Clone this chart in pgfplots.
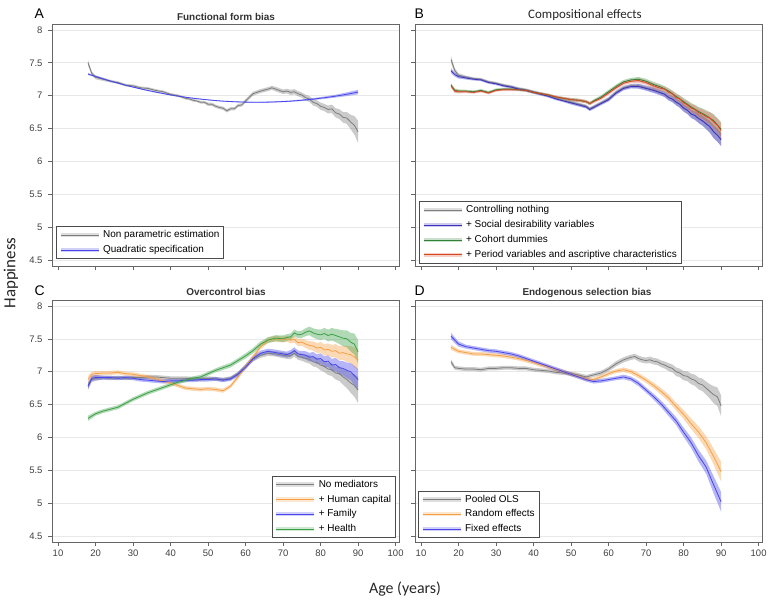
\documentclass[border=0pt]{standalone}
\usepackage{pgfplots}
\pgfplotsset{compat=1.18}
\usepgfplotslibrary{fillbetween}
\usepackage{pgfplotstable}
\usepackage{fontspec}
\setmainfont{Liberation Sans}
\newfontfamily\carlito{Carlito}

\definecolor{cgray}{RGB}{125,125,125}
\definecolor{cblue}{RGB}{70,70,235}
\definecolor{cnavy}{RGB}{60,50,190}
\definecolor{cgreen}{RGB}{60,160,70}
\definecolor{cred}{RGB}{215,70,30}
\definecolor{corange}{RGB}{245,160,70}

% age, estimate, half width of the confidence band
\pgfplotstableread{
x y e
18 7.50 0.04
19 7.34 0.03
20 7.28 0.03
22 7.25 0.025
24 7.22 0.02
26 7.20 0.02
28 7.16 0.02
30 7.15 0.02
32 7.12 0.02
34 7.11 0.02
36 7.08 0.02
38 7.06 0.02
40 7.02 0.02
41 7.01 0.02
42 7.00 0.02
43 6.98 0.02
44 6.96 0.02
45 6.95 0.02
46 6.93 0.02
47 6.92 0.02
48 6.90 0.02
49 6.90 0.02
50 6.87 0.025
51 6.87 0.025
52 6.84 0.025
53 6.82 0.025
54 6.81 0.025
55 6.77 0.025
56 6.80 0.025
57 6.80 0.025
58 6.85 0.025
59 6.86 0.025
60 6.92 0.03
62 7.03 0.03
64 7.07 0.03
66 7.10 0.03
67 7.12 0.03
68 7.10 0.035
69 7.08 0.035
70 7.06 0.035
71 7.07 0.035
72 7.05 0.04
73 7.06 0.04
74 7.03 0.04
75 7.01 0.04
76 6.97 0.045
77 6.95 0.045
78 6.90 0.05
79 6.88 0.05
80 6.84 0.055
81 6.82 0.055
82 6.79 0.06
83 6.80 0.065
84 6.74 0.07
85 6.72 0.075
86 6.67 0.08
87 6.66 0.09
88 6.60 0.11
89 6.55 0.14
90 6.45 0.17
}\aGray
\pgfplotstableread{
x y e
18 7.329 0.015
21 7.274 0.012
24 7.222 0.01
27 7.175 0.009
30 7.131 0.008
33 7.091 0.008
36 7.055 0.007
39 7.022 0.007
42 6.993 0.006
45 6.969 0.006
48 6.948 0.006
51 6.931 0.006
54 6.917 0.006
57 6.908 0.007
60 6.902 0.007
63 6.900 0.007
66 6.902 0.008
69 6.908 0.009
72 6.917 0.01
75 6.931 0.012
78 6.948 0.015
81 6.969 0.018
84 6.993 0.022
87 7.022 0.028
90 7.055 0.035
}\aQuad

\pgfplotstableread{
x y e
18 7.55 0.05
19 7.38 0.04
20 7.31 0.03
22 7.28 0.025
24 7.26 0.02
26 7.25 0.02
28 7.21 0.02
30 7.19 0.02
32 7.16 0.02
34 7.14 0.02
36 7.11 0.02
38 7.09 0.02
40 7.06 0.02
42 7.03 0.02
44 7.00 0.02
46 6.96 0.02
48 6.93 0.02
50 6.90 0.025
52 6.87 0.025
54 6.84 0.025
55 6.80 0.025
56 6.83 0.025
58 6.89 0.025
60 6.95 0.03
62 7.05 0.03
64 7.12 0.03
66 7.15 0.03
68 7.15 0.035
70 7.12 0.035
72 7.09 0.04
74 7.05 0.04
76 6.98 0.045
78 6.91 0.05
80 6.82 0.055
82 6.73 0.06
84 6.66 0.07
86 6.58 0.08
88 6.46 0.1
90 6.34 0.1
}\bGray
\pgfplotstableread{
x y e
18 7.38 0.04
19 7.32 0.03
20 7.29 0.03
22 7.27 0.025
24 7.25 0.02
26 7.24 0.02
28 7.20 0.02
30 7.18 0.02
32 7.15 0.02
34 7.13 0.02
36 7.10 0.02
38 7.08 0.02
40 7.05 0.02
42 7.02 0.02
44 6.99 0.02
46 6.95 0.02
48 6.92 0.02
50 6.89 0.025
52 6.86 0.025
54 6.83 0.025
55 6.79 0.025
56 6.82 0.025
58 6.88 0.025
60 6.94 0.03
62 7.04 0.03
64 7.11 0.03
66 7.14 0.03
68 7.14 0.035
70 7.11 0.035
72 7.08 0.04
74 7.04 0.04
75 7.02 0.04
76 6.97 0.045
77 6.95 0.045
78 6.90 0.05
79 6.87 0.05
80 6.81 0.055
81 6.78 0.055
82 6.72 0.06
83 6.70 0.065
84 6.65 0.07
85 6.62 0.075
86 6.57 0.08
87 6.53 0.09
88 6.45 0.1
89 6.40 0.1
90 6.33 0.1
}\bBlue
\pgfplotstableread{
x y e
18 7.16 0.03
19 7.08 0.03
20 7.07 0.025
22 7.07 0.02
24 7.06 0.02
26 7.08 0.02
28 7.05 0.02
30 7.09 0.02
32 7.10 0.02
34 7.10 0.02
36 7.09 0.02
38 7.08 0.02
40 7.05 0.02
42 7.03 0.02
44 7.01 0.02
46 6.98 0.02
48 6.96 0.02
50 6.94 0.025
52 6.93 0.025
54 6.91 0.025
55 6.88 0.025
56 6.92 0.025
58 6.98 0.025
60 7.06 0.03
62 7.14 0.03
64 7.21 0.03
66 7.24 0.03
68 7.25 0.035
70 7.22 0.035
72 7.17 0.04
74 7.13 0.04
76 7.07 0.045
78 6.99 0.05
80 6.91 0.055
82 6.83 0.06
84 6.76 0.07
86 6.70 0.08
88 6.62 0.1
90 6.49 0.11
}\bGreen
\pgfplotstableread{
x y e
18 7.15 0.03
19 7.07 0.03
20 7.06 0.025
22 7.06 0.02
24 7.05 0.02
26 7.07 0.02
28 7.04 0.02
30 7.08 0.02
32 7.09 0.02
34 7.09 0.02
36 7.09 0.02
38 7.08 0.02
40 7.05 0.02
42 7.03 0.02
44 7.01 0.02
46 6.98 0.02
48 6.96 0.02
50 6.94 0.025
52 6.93 0.025
54 6.91 0.025
55 6.88 0.025
56 6.91 0.025
58 6.96 0.025
60 7.04 0.03
62 7.12 0.03
64 7.19 0.03
66 7.22 0.03
68 7.23 0.035
70 7.20 0.035
72 7.15 0.04
74 7.11 0.04
75 7.10 0.04
76 7.05 0.045
77 7.03 0.045
78 6.97 0.05
79 6.95 0.05
80 6.89 0.055
81 6.86 0.055
82 6.81 0.06
83 6.79 0.065
84 6.74 0.07
85 6.72 0.075
86 6.68 0.08
87 6.66 0.09
88 6.60 0.1
89 6.55 0.1
90 6.47 0.11
}\bRed

\pgfplotstableread{
x y e
18 6.78 0.05
19 6.88 0.04
20 6.90 0.04
22 6.91 0.03
24 6.90 0.03
26 6.91 0.03
28 6.90 0.03
30 6.91 0.03
32 6.91 0.03
34 6.92 0.03
36 6.92 0.03
38 6.91 0.03
40 6.90 0.03
42 6.90 0.03
44 6.90 0.03
46 6.89 0.03
48 6.89 0.03
50 6.90 0.03
52 6.89 0.03
54 6.88 0.03
56 6.90 0.03
58 6.97 0.03
60 7.08 0.035
62 7.19 0.035
64 7.25 0.04
66 7.28 0.04
68 7.27 0.04
70 7.25 0.045
71 7.24 0.045
72 7.24 0.05
73 7.28 0.05
74 7.23 0.05
75 7.22 0.055
76 7.20 0.06
77 7.19 0.065
78 7.15 0.07
79 7.14 0.075
80 7.10 0.08
81 7.08 0.085
82 7.04 0.09
83 7.03 0.095
84 6.98 0.1
85 6.97 0.11
86 6.92 0.12
87 6.88 0.13
88 6.83 0.15
89 6.79 0.17
90 6.72 0.2
}\cGray
\pgfplotstableread{
x y e
18 6.88 0.05
19 6.96 0.04
20 6.97 0.04
22 6.98 0.03
24 6.98 0.03
26 6.99 0.03
28 6.97 0.03
30 6.96 0.03
32 6.94 0.03
34 6.92 0.03
36 6.89 0.03
38 6.86 0.03
40 6.83 0.03
42 6.79 0.03
44 6.75 0.03
46 6.74 0.03
48 6.73 0.03
50 6.74 0.03
52 6.73 0.03
54 6.71 0.03
56 6.78 0.03
58 6.92 0.035
60 7.08 0.035
62 7.22 0.04
64 7.38 0.04
66 7.48 0.04
68 7.50 0.045
70 7.49 0.045
71 7.50 0.045
72 7.48 0.05
73 7.49 0.05
74 7.44 0.05
75 7.45 0.055
76 7.42 0.06
77 7.40 0.065
78 7.39 0.07
79 7.36 0.075
80 7.37 0.08
81 7.33 0.085
82 7.34 0.09
83 7.31 0.095
84 7.32 0.1
85 7.28 0.105
86 7.29 0.11
87 7.27 0.12
88 7.26 0.13
89 7.22 0.15
90 7.18 0.16
}\cOrange
\pgfplotstableread{
x y e
18 6.78 0.05
19 6.90 0.04
20 6.91 0.04
22 6.91 0.03
24 6.91 0.03
26 6.90 0.03
28 6.91 0.03
30 6.90 0.03
32 6.88 0.03
34 6.87 0.03
36 6.86 0.03
38 6.85 0.03
40 6.86 0.03
42 6.86 0.03
44 6.87 0.03
46 6.87 0.03
48 6.88 0.03
50 6.88 0.03
52 6.89 0.03
54 6.87 0.03
56 6.89 0.03
58 6.96 0.035
60 7.07 0.035
62 7.20 0.04
64 7.28 0.04
66 7.31 0.04
68 7.29 0.045
70 7.27 0.045
71 7.26 0.045
72 7.28 0.05
73 7.32 0.05
74 7.27 0.05
75 7.26 0.055
76 7.25 0.06
77 7.22 0.065
78 7.23 0.07
79 7.19 0.075
80 7.20 0.08
81 7.15 0.085
82 7.16 0.09
83 7.10 0.095
84 7.11 0.1
85 7.06 0.105
86 7.05 0.11
87 7.02 0.12
88 7.00 0.13
89 6.94 0.15
90 6.88 0.16
}\cBlue
\pgfplotstableread{
x y e
18 6.29 0.04
20 6.36 0.03
22 6.40 0.03
24 6.43 0.03
26 6.46 0.03
28 6.52 0.03
30 6.58 0.03
32 6.63 0.03
34 6.68 0.03
36 6.72 0.03
38 6.76 0.03
40 6.80 0.03
42 6.84 0.03
44 6.87 0.03
46 6.90 0.03
48 6.92 0.03
50 6.97 0.03
52 7.02 0.03
54 7.06 0.035
56 7.10 0.035
58 7.17 0.035
60 7.24 0.04
62 7.32 0.04
64 7.42 0.04
66 7.48 0.045
68 7.51 0.045
70 7.50 0.05
71 7.52 0.05
72 7.53 0.05
73 7.59 0.05
74 7.56 0.055
75 7.57 0.055
76 7.60 0.06
77 7.62 0.065
78 7.59 0.07
79 7.57 0.075
80 7.56 0.08
81 7.58 0.085
82 7.55 0.09
83 7.57 0.095
84 7.55 0.1
85 7.53 0.11
86 7.51 0.12
87 7.50 0.13
88 7.45 0.14
89 7.42 0.16
90 7.30 0.18
}\cGreen

\pgfplotstableread{
x y e
18 7.15 0.04
19 7.06 0.03
20 7.05 0.03
22 7.04 0.03
24 7.04 0.03
26 7.03 0.03
28 7.05 0.03
30 7.05 0.03
32 7.06 0.03
34 7.06 0.03
36 7.05 0.03
38 7.05 0.03
40 7.03 0.03
42 7.02 0.03
44 7.01 0.03
46 6.99 0.03
48 6.98 0.03
50 6.97 0.03
52 6.95 0.03
54 6.92 0.03
56 6.95 0.03
58 6.98 0.035
60 7.04 0.035
62 7.12 0.04
64 7.18 0.04
66 7.22 0.04
67 7.23 0.04
68 7.20 0.045
69 7.18 0.045
70 7.17 0.045
71 7.18 0.05
72 7.16 0.05
73 7.15 0.05
74 7.12 0.05
75 7.10 0.055
76 7.07 0.06
77 7.05 0.06
78 7.00 0.065
79 6.98 0.065
80 6.94 0.07
81 6.93 0.075
82 6.89 0.08
83 6.87 0.085
84 6.82 0.09
85 6.80 0.095
86 6.75 0.1
87 6.70 0.11
88 6.65 0.13
89 6.62 0.14
90 6.48 0.16
}\dGray
\pgfplotstableread{
x y e
18 7.37 0.04
20 7.31 0.03
22 7.29 0.03
24 7.27 0.03
26 7.27 0.03
28 7.26 0.03
30 7.25 0.03
32 7.24 0.03
34 7.22 0.03
36 7.20 0.03
38 7.17 0.03
40 7.14 0.03
42 7.10 0.03
44 7.07 0.03
46 7.03 0.03
48 7.00 0.03
50 6.96 0.03
52 6.93 0.03
54 6.89 0.03
56 6.88 0.03
58 6.92 0.03
60 6.97 0.03
62 7.01 0.03
64 7.03 0.035
66 7.00 0.035
68 6.94 0.04
70 6.87 0.04
72 6.79 0.045
74 6.70 0.05
76 6.60 0.055
78 6.47 0.06
80 6.35 0.07
82 6.21 0.08
84 6.08 0.09
86 5.92 0.1
88 5.71 0.12
90 5.48 0.15
}\dOrange
\pgfplotstableread{
x y e
18 7.54 0.05
20 7.42 0.04
22 7.38 0.03
24 7.36 0.03
26 7.34 0.03
28 7.32 0.03
30 7.31 0.03
32 7.29 0.03
34 7.27 0.03
36 7.24 0.03
38 7.20 0.03
40 7.16 0.03
42 7.12 0.03
44 7.08 0.03
46 7.04 0.03
48 7.00 0.03
50 6.96 0.03
52 6.92 0.03
54 6.88 0.03
56 6.85 0.03
58 6.86 0.03
60 6.88 0.03
62 6.90 0.03
64 6.92 0.035
66 6.89 0.035
68 6.82 0.04
70 6.72 0.04
72 6.62 0.045
74 6.51 0.05
76 6.38 0.055
78 6.25 0.06
80 6.08 0.07
82 5.92 0.08
84 5.72 0.09
86 5.55 0.1
88 5.28 0.13
90 5.02 0.15
}\dBlue

% confidence band: #1 table, #2 colour, #3 path id
\newcommand{\ciband}[3]{%
  \addplot[draw=none, forget plot, name path=#3u] table[x=x, y expr=\thisrow{y}+\thisrow{e}] {#1};
  \addplot[draw=none, forget plot, name path=#3l] table[x=x, y expr=\thisrow{y}-\thisrow{e}] {#1};
  \addplot[fill=#2, fill opacity=0.4, draw=none, forget plot] fill between[of=#3u and #3l];
}

\pgfplotsset{
  panel/.style={
    scale only axis, width=347bp, height=242bp,
    xmin=8.4, xmax=100.9, ymin=4.41, ymax=8.09,
    xtick={10,20,...,100}, ytick={4.5,5,...,8},
    tick align=outside, xtick pos=bottom, ytick pos=left,
    major tick length=4bp,
    axis line style={black!60, line width=0.7bp},
    tick style={black!60, line width=0.6bp},
    ymajorgrids, grid style={black!9, line width=0.6bp},
    ticklabel style={font=\fontsize{9.5}{11}\selectfont, text=black!75},
    yticklabel style={xshift=-2bp},
    /pgf/number format/assume math mode=true,
    legend cell align=left,
    legend style={draw=black!70, line width=0.6bp, fill=white,
      font=\fontsize{10}{12}\selectfont, inner xsep=2bp, inner ysep=1bp,
      nodes={inner sep=2.2bp, text height=8bp, text depth=2.5bp}},
    legend image code/.code={
      \draw[##1, line width=4.5bp, draw opacity=0.25] (0bp,0bp) -- (38bp,0bp);
      \draw[##1] (0bp,0bp) -- (38bp,0bp);},
    every axis plot/.append style={line width=0.8bp},
  }
}

\begin{document}
\begin{tikzpicture}

% A
\begin{axis}[panel, at={(52bp,-266bp)}, anchor=south west, xticklabels={},
  legend style={at={(0.012,0.03)}, anchor=south west}]
\ciband{\aGray}{cgray}{aG}
\addplot[cgray] table[x=x, y=y] {\aGray};
\addlegendentry{Non parametric estimation}
\ciband{\aQuad}{cblue}{aQ}
\addplot[cblue, smooth] table[x=x, y=y] {\aQuad};
\addlegendentry{Quadratic specification}
\end{axis}

% B
\begin{axis}[panel, at={(415bp,-266bp)}, anchor=south west, xticklabels={}, yticklabels={},
  legend style={at={(0.012,0.01)}, anchor=south west}]
\ciband{\bGray}{cgray}{bG}
\addplot[cgray] table[x=x, y=y] {\bGray};
\addlegendentry{Controlling nothing}
\ciband{\bBlue}{cblue}{bB}
\addplot[cnavy] table[x=x, y=y] {\bBlue};
\addlegendentry{+ Social desirability variables}
\ciband{\bGreen}{cgreen}{bGr}
\addplot[cgreen!80!black] table[x=x, y=y] {\bGreen};
\addlegendentry{+ Cohort dummies}
\ciband{\bRed}{red!60}{bR}
\addplot[cred] table[x=x, y=y] {\bRed};
\addlegendentry{+ Period variables and ascriptive characteristics}
\end{axis}

% C
\begin{axis}[panel, at={(52bp,-542bp)}, anchor=south west,
  legend style={at={(0.99,0.017)}, anchor=south east}]
\ciband{\cGray}{cgray}{cG}
\addplot[cgray] table[x=x, y=y] {\cGray};
\addlegendentry{No mediators}
\ciband{\cOrange}{corange}{cO}
\addplot[corange] table[x=x, y=y] {\cOrange};
\addlegendentry{+ Human capital}
\ciband{\cBlue}{cblue}{cB}
\addplot[cblue] table[x=x, y=y] {\cBlue};
\addlegendentry{+ Family}
\ciband{\cGreen}{cgreen}{cGr}
\addplot[cgreen] table[x=x, y=y] {\cGreen};
\addlegendentry{+ Health}
\end{axis}

% D
\begin{axis}[panel, at={(415bp,-542bp)}, anchor=south west, yticklabels={},
  legend style={at={(0.009,0.017)}, anchor=south west}]
\ciband{\dGray}{cgray}{dG}
\addplot[cgray] table[x=x, y=y] {\dGray};
\addlegendentry{Pooled OLS}
\ciband{\dOrange}{corange}{dO}
\addplot[corange] table[x=x, y=y] {\dOrange};
\addlegendentry{Random effects}
\ciband{\dBlue}{cblue}{dB}
\addplot[cblue] table[x=x, y=y] {\dBlue};
\addlegendentry{Fixed effects}
\end{axis}

% panel letters and titles
\node[anchor=base west, font=\fontsize{14}{16}\selectfont] at (31bp,-18bp) {A};
\node[anchor=base west, font=\fontsize{14}{16}\selectfont] at (411bp,-18bp) {B};
\node[anchor=base west, font=\fontsize{14}{16}\selectfont] at (31bp,-295bp) {C};
\node[anchor=base west, font=\fontsize{14}{16}\selectfont] at (411bp,-295bp) {D};
\node[anchor=base, font=\bfseries\fontsize{10}{12}\selectfont, text=black!80] at (226bp,-20bp) {Functional form bias};
\node[anchor=base, font=\carlito\fontsize{13}{15}\selectfont, text=black!85] at (585bp,-18bp) {Compositional effects};
\node[anchor=base, font=\bfseries\fontsize{10}{12}\selectfont, text=black!80] at (226bp,-295bp) {Overcontrol bias};
\node[anchor=base, font=\bfseries\fontsize{10}{12}\selectfont, text=black!80] at (587bp,-295bp) {Endogenous selection bias};

% shared axis labels
\node[rotate=90, font=\carlito\fontsize{17}{20}\selectfont, text=black!85] at (11bp,-273bp) {Happiness};
\node[anchor=base, font=\carlito\fontsize{16}{19}\selectfont, text=black!85] at (405bp,-593bp) {Age (years)};

% page is the reference's 768 x 601
\pgfresetboundingbox
\path[use as bounding box] (0bp,0bp) rectangle (768bp,-601bp);
\end{tikzpicture}
\end{document}
